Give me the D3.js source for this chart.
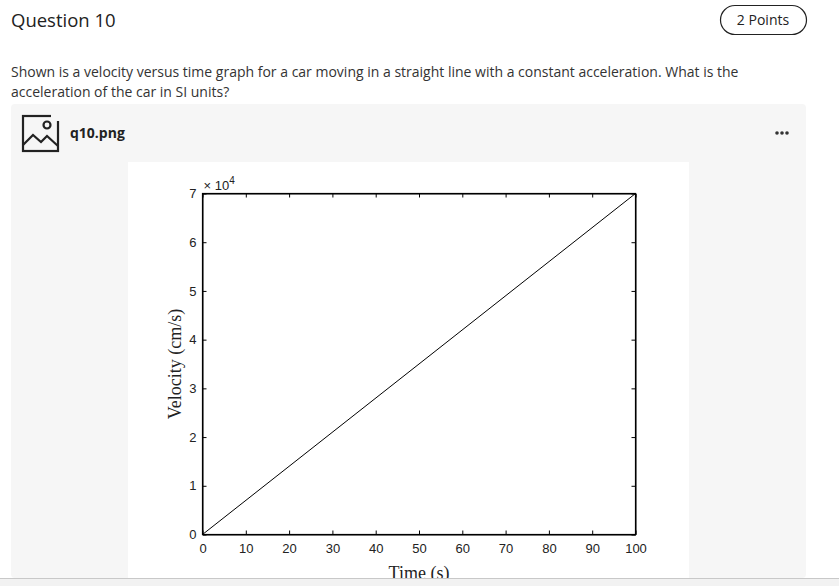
<!DOCTYPE html>
<html>
<head>
<meta charset="utf-8">
<script src="https://cdn.jsdelivr.net/npm/d3@7"></script>
<style>
  body { margin: 0; background: #fff; }
  svg { display: block; }
</style>
</head>
<body>
<svg id="chart" width="839" height="586"></svg>
<script>
// chart data
const timeValues = [0, 100]
const velocityValues = [0, 70000]
const xTicks = [0, 10, 20, 30, 40, 50, 60, 70, 80, 90, 100]
const yTicks = [0, 10000, 20000, 30000, 40000, 50000, 60000, 70000]

const svg = d3.select("#chart")
const uiFont = "'Open Sans', 'Noto Sans', sans-serif"

// page chrome
svg.append("text")
    .attr("x", 11).attr("y", 27)
    .attr("font-family", uiFont).attr("font-size", "18.5px")
    .attr("fill", "#222")
    .text("Question 10")

svg.append("rect")
    .attr("x", 720.5).attr("y", 5.5)
    .attr("width", 86).attr("height", 29).attr("rx", 14.5)
    .attr("fill", "#fff").attr("stroke", "#222").attr("stroke-width", 1.2)

svg.append("text")
    .attr("x", 763).attr("y", 24.5)
    .attr("text-anchor", "middle")
    .attr("font-family", uiFont).attr("font-size", "14px")
    .attr("fill", "#222")
    .text("2 Points")

const question = [
    "Shown is a velocity versus time graph for a car moving in a straight line with a constant acceleration. What is the",
    "acceleration of the car in SI units?"
]
svg.selectAll(".qline")
    .data(question)
    .enter().append("text")
    .attr("class", "qline")
    .attr("x", 11)
    .attr("y", (d, i) => 77 + i * 20)
    .attr("font-family", uiFont).attr("font-size", "14px")
    .attr("fill", "#333")
    .text(d => d)

// attachment card
svg.append("rect")
    .attr("x", 11).attr("y", 104)
    .attr("width", 795).attr("height", 474).attr("rx", 4)
    .attr("fill", "#f6f6f6")

// image icon
const icon = svg.append("g").attr("stroke", "#222").attr("fill", "none").attr("stroke-width", 2.2)
icon.append("rect").attr("x", 23).attr("y", 116).attr("width", 35).attr("height", 35)
icon.append("path").attr("d", "M23,145 L33,135 L41,142 L47,136 L58,146")
svg.append("rect").attr("x", 51).attr("y", 114).attr("width", 9).attr("height", 7).attr("fill", "#f6f6f6")
svg.append("circle").attr("cx", 47).attr("cy", 125).attr("r", 3.5)
    .attr("fill", "none").attr("stroke", "#222").attr("stroke-width", 2.2)

svg.append("text")
    .attr("x", 70).attr("y", 138)
    .attr("font-family", uiFont).attr("font-size", "14px").attr("font-weight", "bold")
    .attr("fill", "#222")
    .text("q10.png")

svg.selectAll(".dot")
    .data([0, 1, 2])
    .enter().append("circle")
    .attr("class", "dot")
    .attr("cx", d => 777 + d * 5).attr("cy", 133).attr("r", 1.8)
    .attr("fill", "#333")

// white image area
svg.append("rect")
    .attr("x", 128).attr("y", 162)
    .attr("width", 561).attr("height", 424)
    .attr("fill", "#fff")

// plot
const plot = { left: 202.5, right: 635.5, top: 193.5, bottom: 534.5 }

const x = d3.scaleLinear().domain([0, 100]).range([plot.left, plot.right])
const y = d3.scaleLinear().domain([0, 70000]).range([plot.bottom, plot.top])

const tickFont = "'Liberation Sans', Arial, sans-serif"
const tickLen = 4

svg.append("g")
    .attr("transform", `translate(0,${plot.bottom})`)
    .call(d3.axisBottom(x).tickValues(xTicks).tickSizeInner(-tickLen).tickSizeOuter(0).tickPadding(9))
svg.append("g")
    .attr("transform", `translate(0,${plot.top})`)
    .call(d3.axisTop(x).tickValues(xTicks).tickSizeInner(-tickLen).tickSizeOuter(0).tickFormat(""))
svg.append("g")
    .attr("transform", `translate(${plot.left},0)`)
    .call(d3.axisLeft(y).tickValues(yTicks).tickSizeInner(-tickLen).tickSizeOuter(0).tickPadding(6)
        .tickFormat(d => d / 10000))
svg.append("g")
    .attr("transform", `translate(${plot.right},0)`)
    .call(d3.axisRight(y).tickValues(yTicks).tickSizeInner(-tickLen).tickSizeOuter(0).tickFormat(""))

svg.selectAll(".domain").attr("stroke", "#000")
svg.selectAll(".tick line").attr("stroke", "#000")
svg.selectAll(".tick text")
    .attr("font-family", tickFont).attr("font-size", "13px").attr("fill", "#222")

// box
svg.append("rect")
    .attr("x", plot.left).attr("y", plot.top)
    .attr("width", plot.right - plot.left).attr("height", plot.bottom - plot.top)
    .attr("fill", "none").attr("stroke", "#000").attr("stroke-width", 1.2)

// data line
const line = d3.line()
    .x(d => x(d[0]))
    .y(d => y(d[1]))
svg.append("path")
    .datum(timeValues.map((t, i) => [t, velocityValues[i]]))
    .attr("d", line)
    .attr("fill", "none")
    .attr("stroke", "#000")
    .attr("stroke-width", 1)

// exponent label
const expo = svg.append("text")
    .attr("x", plot.left + 1).attr("y", 190)
    .attr("font-family", tickFont).attr("font-size", "13px").attr("fill", "#222")
expo.append("tspan").text("\u00d7 10")
expo.append("tspan").attr("dy", -6).attr("font-size", "10px").text("4")

// axis titles
svg.append("text")
    .attr("x", (plot.left + plot.right) / 2).attr("y", 579)
    .attr("text-anchor", "middle")
    .attr("font-family", "'Liberation Serif', 'Times New Roman', serif").attr("font-size", "18px")
    .attr("fill", "#222")
    .text("Time (s)")

svg.append("text")
    .attr("transform", `translate(181,${(plot.top + plot.bottom) / 2}) rotate(-90)`)
    .attr("text-anchor", "middle")
    .attr("font-family", "'Liberation Serif', 'Times New Roman', serif").attr("font-size", "18px")
    .attr("fill", "#222")
    .text("Velocity (cm/s)")

// bottom divider, cuts the image
svg.append("rect")
    .attr("x", 0).attr("y", 578)
    .attr("width", 839).attr("height", 8)
    .attr("fill", "#f2f2f2")
svg.append("line")
    .attr("x1", 0).attr("x2", 839).attr("y1", 578.5).attr("y2", 578.5)
    .attr("stroke", "#c8c8c8")
</script>
</body>
</html>
